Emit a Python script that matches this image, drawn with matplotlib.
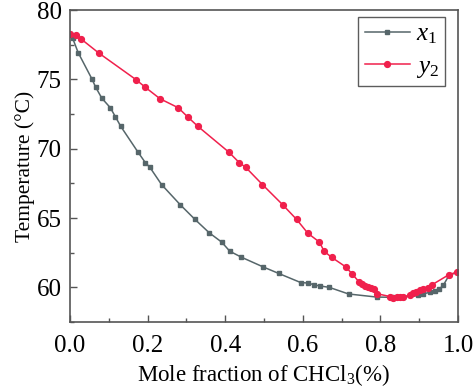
import matplotlib
matplotlib.use("Agg")
import matplotlib.pyplot as plt
from matplotlib.ticker import MultipleLocator, FormatStrFormatter

# liquid phase x1
x1 = [0.0, 0.007, 0.021, 0.057, 0.066, 0.082, 0.104, 0.117, 0.131, 0.175, 0.194, 0.206,
      0.236, 0.284, 0.322, 0.359, 0.391, 0.412, 0.442, 0.498, 0.538, 0.595, 0.614, 0.630,
      0.644, 0.668, 0.718, 0.790, 0.830, 0.859, 0.898, 0.911, 0.928, 0.941, 0.952, 0.962,
      0.977, 1.0]
T_x1 = [78.26, 77.95, 76.93, 75.0, 74.44, 73.64, 72.95, 72.3, 71.6, 69.76, 69.0, 68.65,
        67.41, 65.96, 64.9, 63.93, 63.26, 62.6, 62.17, 61.47, 61.0, 60.34, 60.31, 60.17,
        60.1, 60.0, 59.52, 59.3, 59.28, 59.3, 59.42, 59.54, 59.64, 59.73, 59.88, 60.14,
        60.87, 61.1]

# vapour phase y2
y2 = [0.0, 0.015, 0.029, 0.074, 0.170, 0.193, 0.232, 0.279, 0.303, 0.330, 0.409, 0.436,
      0.453, 0.496, 0.548, 0.584, 0.613, 0.643, 0.655, 0.674, 0.711, 0.728, 0.746, 0.752,
      0.760, 0.768, 0.776, 0.784, 0.791, 0.826, 0.833, 0.842, 0.851, 0.859, 0.876, 0.885,
      0.893, 0.902, 0.909, 0.922, 0.934, 0.977, 0.998]
T_y2 = [78.26, 78.2, 77.9, 76.9, 74.98, 74.45, 73.6, 72.95, 72.3, 71.6, 69.76, 69.0,
        68.65, 67.41, 65.96, 64.9, 63.9, 63.26, 62.6, 62.17, 61.47, 60.94, 60.36, 60.25,
        60.12, 60.02, 59.95, 59.85, 59.54, 59.33, 59.25, 59.3, 59.3, 59.3, 59.45, 59.59,
        59.69, 59.78, 59.88, 59.98, 60.2, 60.92, 61.1]

plt.rcParams['font.family'] = ['Liberation Serif', 'DejaVu Serif']
plt.rcParams['mathtext.fontset'] = 'custom'
plt.rcParams['mathtext.it'] = 'Liberation Serif:italic'
plt.rcParams['mathtext.rm'] = 'Liberation Serif'

fig = plt.figure(figsize=(4.74, 3.90), dpi=100)
ax = fig.add_axes([70/474, 1 - 322/390, 388/474, 312/390])

grey = '#56666a'
red = '#f0204c'
ax.plot(x1, T_x1, color=grey, marker='s', markersize=2.8, lw=1.1, label='$x_1$')
ax.plot(y2, T_y2, color=red, marker='o', markersize=4.2, lw=1.1, label='$y_2$')

ax.set_xlim(0, 1.0)
ax.set_ylim(57.5, 80)
ax.xaxis.set_major_locator(MultipleLocator(0.2))
ax.xaxis.set_minor_locator(MultipleLocator(0.1))
ax.yaxis.set_major_locator(MultipleLocator(5))
ax.yaxis.set_minor_locator(MultipleLocator(2.5))
ax.xaxis.set_major_formatter(FormatStrFormatter('%.1f'))
ax.tick_params(which='both', direction='in', color='#555555', labelsize=18, width=1)
ax.tick_params(axis='x', pad=9)
ax.tick_params(axis='y', pad=6)
ax.tick_params(which='major', length=5)
ax.tick_params(which='minor', length=3)
for s in ax.spines.values():
    s.set_color('#555555')
    s.set_linewidth(1.2)

ax.set_xlabel('Mole fraction of CHCl$_3$(%)', fontsize=16.5, labelpad=4)
ax.set_ylabel('Temperature (°C)', fontsize=15.5, labelpad=1)

leg = ax.legend(loc='upper right', fontsize=18, frameon=True, fancybox=False,
                edgecolor='#333333', handlelength=1.8, borderaxespad=0.0,
                handletextpad=0.25, borderpad=0.25, labelspacing=0.35,
                bbox_to_anchor=((445 - 70) / 388, 1 - 7 / 312))
leg.get_frame().set_linewidth(1.0)

fig.savefig('out.png', dpi=100)
